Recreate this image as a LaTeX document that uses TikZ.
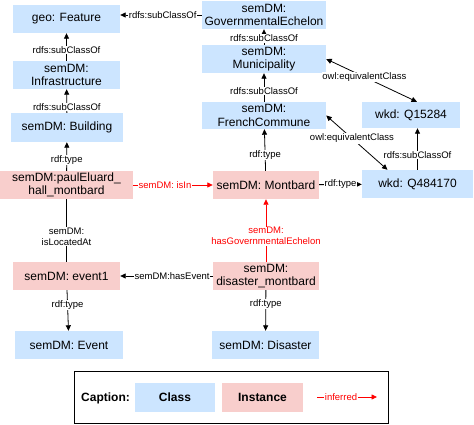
\documentclass[tikz,border=0pt]{standalone}
\usepackage{fontspec}
\setmainfont{Liberation Sans}
\usetikzlibrary{arrows.meta}
\definecolor{clsblue}{HTML}{CCE5FF}
\definecolor{instpink}{HTML}{F8CECC}
\definecolor{infred}{HTML}{FF0000}
\begin{document}
\begin{tikzpicture}[x=1pt,y=-1pt,
  box/.style={inner sep=0pt,align=center,font=\fontsize{12}{13.5}\selectfont},
  cls/.style={box,fill=clsblue},
  inst/.style={box,fill=instpink},
  lbl/.style={font=\fontsize{9.5}{11}\selectfont,fill=white,inner sep=0.8pt,align=center,text=black},
  rlbl/.style={lbl,text=infred},
  arr/.style={line width=0.8pt,-{Triangle[length=5.5pt,width=5pt]}},
  darr/.style={line width=0.8pt,{Triangle[length=5.5pt,width=5pt]}-{Triangle[length=5.5pt,width=5pt]}},
  plain/.style={line width=0.8pt},
  red/.style={draw=infred}]
\useasboundingbox (0,0) rectangle (474,425);
% classes
\node[cls,minimum width=107pt,minimum height=28pt] (feat) at (66.5,19) {geo: Feature};
\node[cls,minimum width=107pt,minimum height=28pt] (infra) at (66.5,75) {semDM:\\Infrastructure};
\node[cls,minimum width=112pt,minimum height=29pt] (build) at (67,127.5) {semDM: Building};
\node[cls,minimum width=124pt,minimum height=28pt] (gov) at (264,15) {semDM:\\GovernmentalEchelon};
\node[cls,minimum width=124pt,minimum height=28pt] (muni) at (264,59) {semDM:\\Municipality};
\node[cls,minimum width=124pt,minimum height=27pt] (fc) at (264,115.5) {semDM:\\FrenchCommune};
\node[cls,minimum width=98pt,minimum height=26pt] (q15) at (411,115) {wkd: Q15284};
\node[cls,minimum width=111pt,minimum height=28pt] (q48) at (417.5,184) {wkd: Q484170};
\node[cls,minimum width=108pt,minimum height=28pt] (event) at (69,345) {semDM: Event};
\node[cls,minimum width=107pt,minimum height=28pt] (dis) at (265.5,345) {semDM: Disaster};
% instances
\node[inst,minimum width=133pt,minimum height=28pt] (paul) at (66.5,185) {semDM:paulEluard\_\\hall\_montbard};
\node[inst,minimum width=106pt,minimum height=28pt] (mont) at (266,185) {semDM: Montbard};
\node[inst,minimum width=107pt,minimum height=28pt] (ev1) at (66.5,276) {semDM: event1};
\node[inst,minimum width=106pt,minimum height=28pt] (dism) at (266,276) {semDM:\\disaster\_montbard};
% edges
\draw[arr] (build) -- node[lbl,pos=0.25]{rdfs:subClassOf} (infra);
\draw[arr] (infra) -- node[lbl,pos=0.39]{rdfs:subClassOf} (feat);
\draw[arr] (gov.west) -- node[lbl,pos=0.48]{rdfs:subClassOf} (feat.east |- gov.west);
\draw[arr] (muni) -- node[lbl,pos=0.4]{rdfs:subClassOf} (gov);
\draw[arr] (fc) -- node[lbl,pos=0.38]{rdfs:subClassOf} (muni);
\draw[arr] (mont) -- node[lbl,pos=0.38]{rdf:type} (fc);
\draw[arr] (q48.north) -- node[lbl,pos=0.36]{rdfs:subClassOf} (q48.north |- q15.south);
\draw[arr] (mont) -- node[lbl]{rdf:type} (q48);
\draw[darr] (muni.east) -- node[lbl,pos=0.42]{owl:equivalentClass} ([xshift=6pt]q15.north);
\draw[darr] (fc.east) -- node[lbl,pos=0.42]{owl:equivalentClass} ([xshift=-30pt]q48.north);
\draw[arr] (paul) -- node[lbl,pos=0.38]{rdf:type} (build);
\draw[arr,red] (paul) -- node[rlbl,pos=0.4]{semDM: isIn} (mont);
\draw[plain] (paul) -- node[lbl,pos=0.6]{semDM:\\isLocatedAt} (ev1);
\draw[arr] (dism) -- node[lbl,pos=0.44]{semDM:hasEvent} (ev1);
\draw[arr,red] (dism) -- node[rlbl,pos=0.41]{semDM:\\hasGovernmentalEchelon} (mont);
\draw[arr] (ev1) -- node[lbl,pos=0.37]{rdf:type} (event);
\draw[arr] (dism) -- node[lbl,pos=0.34]{rdf:type} (dis);
% caption
\node[draw,line width=1.6pt,minimum width=314pt,minimum height=52pt,inner sep=0pt] (capbox) at (231.5,397.5) {};
\node[font=\bfseries\fontsize{12}{13}\selectfont,inner sep=0pt] (captxt) at (105.5,398) {Caption:};
\node[cls,font=\bfseries\fontsize{12}{13}\selectfont,minimum width=80pt,minimum height=29pt] (capcls) at (175,397.5) {Class};
\node[inst,font=\bfseries\fontsize{12}{13}\selectfont,minimum width=81pt,minimum height=29pt] (capinst) at (262.5,397.5) {Instance};
\coordinate (infa) at (317,397);
\coordinate (infb) at (377,397);
\draw[arr,red] (infa) -- node[rlbl,pos=0.4]{inferred} (infb);
\end{tikzpicture}
\end{document}
